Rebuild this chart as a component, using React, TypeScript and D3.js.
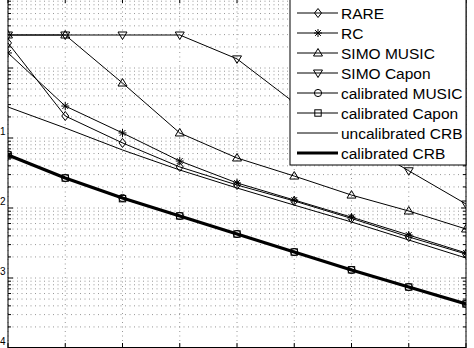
import React from "react";
import * as d3 from "d3";

// x positions (SNR steps; axis labels are cropped off in the reference)
const snr = [-10, -5, 0, 5, 10, 15, 20, 25, 30];

const rare = [2.28, 0.206, 0.085, 0.0386, 0.0213, 0.0126, 0.0071, 0.00386, 0.0022];
const rc = [1.64, 0.286, 0.118, 0.0469, 0.0228, 0.013, 0.0074, 0.00411, 0.00228];
const simoMusic = [2.96, 2.96, 0.61, 0.118, 0.0518, 0.0286, 0.0153, 0.00906, 0.00501];
const simoCapon = [2.96, 2.96, 2.96, 2.96, 1.35, 0.32, 0.103, 0.034, 0.0114];
const calMusic = [0.0585, 0.0268, 0.0139, 0.0077, 0.00425, 0.00235, 0.0013, 0.000743, 0.000426];
const calCapon = [0.0572, 0.0268, 0.0136, 0.0077, 0.00425, 0.00235, 0.00131, 0.000743, 0.000426];
const uncalCrb = [0.277, 0.139, 0.0674, 0.0349, 0.0193, 0.011, 0.00631, 0.00349, 0.00193];
const calCrb = [0.0572, 0.0268, 0.0139, 0.00769, 0.00425, 0.00235, 0.0013, 0.000743, 0.000426];

const yTickValues = [1e-4, 1e-3, 1e-2, 1e-1];
const yTickExps = ["−4", "−3", "−2", "−1"];

const seriesNames = [
  "RARE",
  "RC",
  "SIMO MUSIC",
  "SIMO Capon",
  "calibrated MUSIC",
  "calibrated Capon",
  "uncalibrated CRB",
  "calibrated CRB",
];

type Marker = "diamond" | "star" | "triUp" | "triDown" | "circle" | "square" | "none";

const series: { name: string; values: number[]; marker: Marker; width: number }[] = [
  { name: seriesNames[0], values: rare, marker: "diamond", width: 1 },
  { name: seriesNames[1], values: rc, marker: "star", width: 1 },
  { name: seriesNames[2], values: simoMusic, marker: "triUp", width: 1 },
  { name: seriesNames[3], values: simoCapon, marker: "triDown", width: 1 },
  { name: seriesNames[4], values: calMusic, marker: "circle", width: 1 },
  { name: seriesNames[5], values: calCapon, marker: "square", width: 1 },
  { name: seriesNames[6], values: uncalCrb, marker: "none", width: 1 },
  { name: seriesNames[7], values: calCrb, marker: "none", width: 3.2 },
];

const W = 474;
const H = 348;
const L = 8;
const R = 466;
const T = -2;
const B = 348;

function MarkerShape({ type, cx, cy }: { type: Marker; cx: number; cy: number }) {
  const common = { fill: "none", stroke: "#000", strokeWidth: 1 };
  switch (type) {
    case "diamond":
      return (
        <polygon
          {...common}
          points={`${cx},${cy - 4.5} ${cx + 3.5},${cy} ${cx},${cy + 4.5} ${cx - 3.5},${cy}`}
        />
      );
    case "triUp":
      return (
        <polygon
          {...common}
          points={`${cx},${cy - 4.5} ${cx + 4.5},${cy + 3} ${cx - 4.5},${cy + 3}`}
        />
      );
    case "triDown":
      return (
        <polygon
          {...common}
          points={`${cx},${cy + 4.5} ${cx + 4.5},${cy - 3} ${cx - 4.5},${cy - 3}`}
        />
      );
    case "circle":
      return <circle {...common} cx={cx} cy={cy} r={3.6} />;
    case "square":
      return <rect {...common} x={cx - 3.2} y={cy - 3.2} width={6.4} height={6.4} />;
    case "star": {
      const a = 4;
      const d = 2.9;
      return (
        <path
          {...common}
          d={`M${cx - a},${cy}L${cx + a},${cy}M${cx},${cy - a}L${cx},${cy + a}M${cx - d},${cy - d}L${cx + d},${cy + d}M${cx - d},${cy + d}L${cx + d},${cy - d}`}
        />
      );
    }
    default:
      return null;
  }
}

export default function App() {
  const x = d3.scaleLinear().domain([snr[0], snr[snr.length - 1]]).range([L, R]);
  const y = d3.scaleLog().domain([1e-4, 10]).range([B, T]);
  const yGrid = y.ticks();
  const xTicks = snr;

  const line = d3
    .line<number>()
    .x((_, i) => x(snr[i]))
    .y((d) => y(d));

  const legX0 = 290;
  const legY0 = -2;
  const legY1 = 165;
  const rowY = (i: number) => 13 + i * 20;

  const font = "'Liberation Sans', Arial, Helvetica, sans-serif";

  return (
    <svg
      width={W}
      height={H}
      viewBox={`0 0 ${W} ${H}`}
      style={{ position: "absolute", left: 0, top: 0, background: "#fff" }}
      fontFamily={font}
    >
      <rect x={0} y={0} width={W} height={H} fill="#fff" />
      <defs>
        <clipPath id="plotClip">
          <rect x={L} y={T} width={R - L} height={B - T} />
        </clipPath>
      </defs>
      {/* grid */}
      <g stroke="#8a8a8a" strokeWidth={0.9} strokeDasharray="1 3.5">
        {yGrid.map((v, i) => (
          <line key={"gy" + i} x1={L} x2={R} y1={y(v)} y2={y(v)} />
        ))}
        {xTicks.map((v, i) => (
          <line key={"gx" + i} x1={x(v)} x2={x(v)} y1={T} y2={B} />
        ))}
      </g>
      {/* ticks */}
      <g stroke="#000" strokeWidth={1}>
        {xTicks.map((v, i) => (
          <g key={"tx" + i}>
            <line x1={x(v)} x2={x(v)} y1={B} y2={B - 5} />
            <line x1={x(v)} x2={x(v)} y1={T} y2={T + 5} />
          </g>
        ))}
        {yGrid.map((v, i) => {
          const major = Math.abs(Math.log10(v) - Math.round(Math.log10(v))) < 1e-6;
          const len = major ? 5 : 3;
          return (
            <g key={"ty" + i}>
              <line x1={L} x2={L + len} y1={y(v)} y2={y(v)} />
              <line x1={R} x2={R - len} y1={y(v)} y2={y(v)} />
            </g>
          );
        })}
      </g>
      {/* y tick labels (cropped at the left edge) */}
      {yTickValues.map((v, i) => (
        <text key={"yl" + i} x={5.5} y={y(v) + 5} textAnchor="end" fontSize={14} fill="#000">
          10
          <tspan fontSize={10} dy={-8}>
            {yTickExps[i]}
          </tspan>
        </text>
      ))}
      {/* series */}
      <g clipPath="url(#plotClip)">
        {series.map((s, si) => (
          <g key={"s" + si}>
            <path d={line(s.values) || ""} fill="none" stroke="#000" strokeWidth={s.width} strokeLinejoin="round" />
            {s.values.map((v, i) => (
              <MarkerShape key={i} type={s.marker} cx={x(snr[i])} cy={y(v)} />
            ))}
          </g>
        ))}
      </g>
      {/* axes box */}
      <g stroke="#000" strokeWidth={1} fill="none">
        <line x1={L} x2={L} y1={T} y2={B} />
        <line x1={R} x2={R} y1={T} y2={B} />
        <line x1={L} x2={R} y1={B - 0.5} y2={B - 0.5} />
      </g>
      {/* legend */}
      <rect x={legX0} y={legY0} width={R - legX0} height={legY1 - legY0} fill="#fff" stroke="#000" strokeWidth={1} />
      {series.map((s, i) => (
        <g key={"leg" + i}>
          <line x1={297} x2={338} y1={rowY(i)} y2={rowY(i)} stroke="#000" strokeWidth={s.width} />
          <MarkerShape type={s.marker} cx={318} cy={rowY(i)} />
          <text x={341} y={rowY(i) + 5.5} fontSize={15.5} fill="#000">
            {s.name}
          </text>
        </g>
      ))}
    </svg>
  );
}
